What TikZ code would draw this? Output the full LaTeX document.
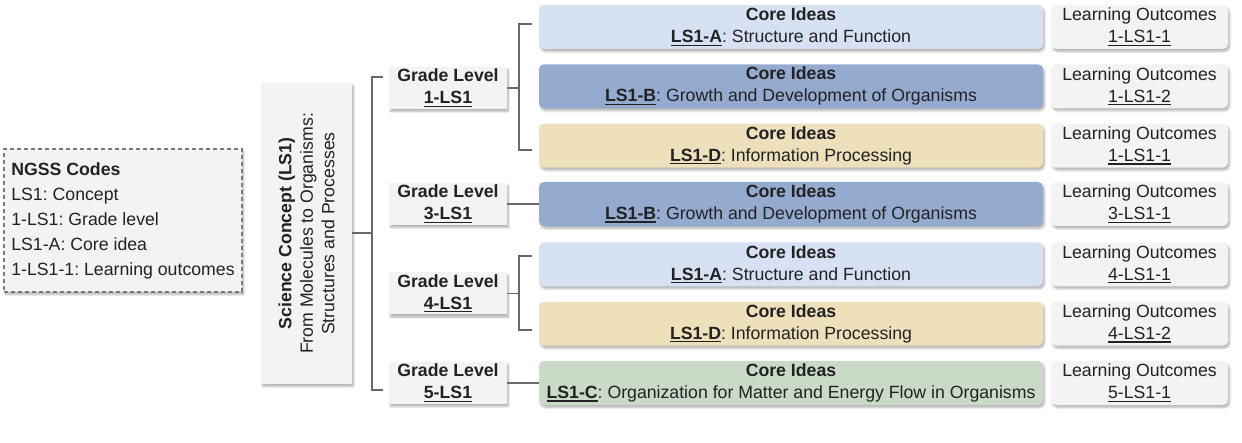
\documentclass[tikz,border=0pt]{standalone}
\usepackage{fontspec}
\setmainfont{Liberation Sans}
\usetikzlibrary{shadows.blur}
\definecolor{coreA}{HTML}{D6E2F4}
\definecolor{coreB}{HTML}{94AACF}
\definecolor{coreC}{HTML}{C9DBC7}
\definecolor{coreD}{HTML}{EDE0BB}
\definecolor{boxgray}{HTML}{F3F3F3}
\definecolor{linkgray}{HTML}{6A6A6A}
\definecolor{txt}{HTML}{222222}
\definecolor{legendline}{HTML}{7A7A7A}
\newcommand\ulx[1]{\setbox0\hbox{#1}\rlap{\rule[-3pt]{\wd0}{1.2pt}}\box0}
\frenchspacing
\tikzset{
  sh/.style={blur shadow={shadow xshift=1.5pt, shadow yshift=-2.5pt, shadow blur steps=6, shadow opacity=30}},
  base/.style={font=\fontsize{17.7}{22}\selectfont, text=txt, align=center, inner sep=0pt, sh},
  corebox/.style={base, rounded corners=5pt, minimum width=504pt, minimum height=44pt},
  lobox/.style={base, rounded corners=5pt, fill=boxgray, minimum width=177pt, minimum height=44pt},
  gradebox/.style={base, fill=boxgray, minimum width=118pt, minimum height=42pt},
  link/.style={draw=linkgray, line width=1.5pt}
}
\begin{document}
\begin{tikzpicture}[x=1pt,y=-1pt]
\useasboundingbox (0,0) rectangle (1242,443);
% legend
\node[draw=legendline, line width=1.1pt, dash pattern=on 4pt off 3pt, fill=boxgray, sh,
      minimum width=238pt, minimum height=143pt, inner xsep=7pt, inner ysep=0pt,
      align=left, text=txt, font=\fontsize{17.7}{25}\selectfont] (legend) at (123,220.5)
  {\textbf{NGSS Codes}\\LS1: Concept\\1-LS1: Grade level\\LS1-A: Core idea\\1-LS1-1: Learning outcomes};
% concept
\node[fill=boxgray, sh, minimum width=91pt, minimum height=301pt, inner sep=0pt] (concept) at (306.5,233.5) {};
\node[rotate=90, align=center, text=txt, inner sep=0pt, font=\fontsize{17.7}{21.5}\selectfont] (concepttext) at (concept.center)
  {\textbf{Science Concept (LS1)}\\From Molecules to Organisms:\\Structures and Processes};
% grade levels
\node[gradebox] (g1) at (448,88) {\textbf{Grade Level}\\\ulx{\textbf{1-LS1}}};
\node[gradebox] (g3) at (448,204) {\textbf{Grade Level}\\\ulx{\textbf{3-LS1}}};
\node[gradebox] (g4) at (448,293.5) {\textbf{Grade Level}\\\ulx{\textbf{4-LS1}}};
\node[gradebox] (g5) at (448,383) {\textbf{Grade Level}\\\ulx{\textbf{5-LS1}}};
% core ideas
\node[corebox, fill=coreA] (c1) at (791,27) {\textbf{Core Ideas}\\\ulx{\textbf{LS1-A}}: Structure and Function};
\node[corebox, fill=coreB] (c2) at (791,86.3) {\textbf{Core Ideas}\\\ulx{\textbf{LS1-B}}: Growth and Development of Organisms};
\node[corebox, fill=coreD] (c3) at (791,145.7) {\textbf{Core Ideas}\\\ulx{\textbf{LS1-D}}: Information Processing};
\node[corebox, fill=coreB] (c4) at (791,204) {\textbf{Core Ideas}\\\ulx{\textbf{LS1-B}}: Growth and Development of Organisms};
\node[corebox, fill=coreA] (c5) at (791,264.3) {\textbf{Core Ideas}\\\ulx{\textbf{LS1-A}}: Structure and Function};
\node[corebox, fill=coreD] (c6) at (791,323.7) {\textbf{Core Ideas}\\\ulx{\textbf{LS1-D}}: Information Processing};
\node[corebox, fill=coreC] (c7) at (791,383) {\textbf{Core Ideas}\\\ulx{\textbf{LS1-C}}: Organization for Matter and Energy Flow in Organisms};
% learning outcomes
\node[lobox] (l1) at (1139.5,27) {Learning Outcomes\\\ulx{1-LS1-1}};
\node[lobox] (l2) at (1139.5,86.3) {Learning Outcomes\\\ulx{1-LS1-2}};
\node[lobox] (l3) at (1139.5,145.7) {Learning Outcomes\\\ulx{1-LS1-1}};
\node[lobox] (l4) at (1139.5,204) {Learning Outcomes\\\ulx{3-LS1-1}};
\node[lobox] (l5) at (1139.5,264.3) {Learning Outcomes\\\ulx{4-LS1-1}};
\node[lobox] (l6) at (1139.5,323.7) {Learning Outcomes\\\ulx{4-LS1-2}};
\node[lobox] (l7) at (1139.5,383) {Learning Outcomes\\\ulx{5-LS1-1}};
% connector points
\coordinate (tA) at (372,233);
\coordinate (tAtop) at (383,77);
\coordinate (tAbot) at (383,390);
\coordinate (t1) at (519,88);
\coordinate (t1top) at (532,24);
\coordinate (t1bot) at (532,150);
\coordinate (t4) at (519,293.5);
\coordinate (t4top) at (532,256);
\coordinate (t4bot) at (532,330);
% connectors
\draw[link] (concept.east |- tA) -- (tA);
\draw[link] (tAtop) -- (tAtop -| tA) -- (tAbot -| tA) -- (tAbot);
\draw[link] (g1.east) -- (t1);
\draw[link] (t1top) -- (t1top -| t1) -- (t1bot -| t1) -- (t1bot);
\draw[link] (g3.east) -- (c4.west);
\draw[link] (g4.east) -- (t4);
\draw[link] (t4top) -- (t4top -| t4) -- (t4bot -| t4) -- (t4bot);
\draw[link] (g5.east) -- (c7.west);
\end{tikzpicture}
\end{document}
